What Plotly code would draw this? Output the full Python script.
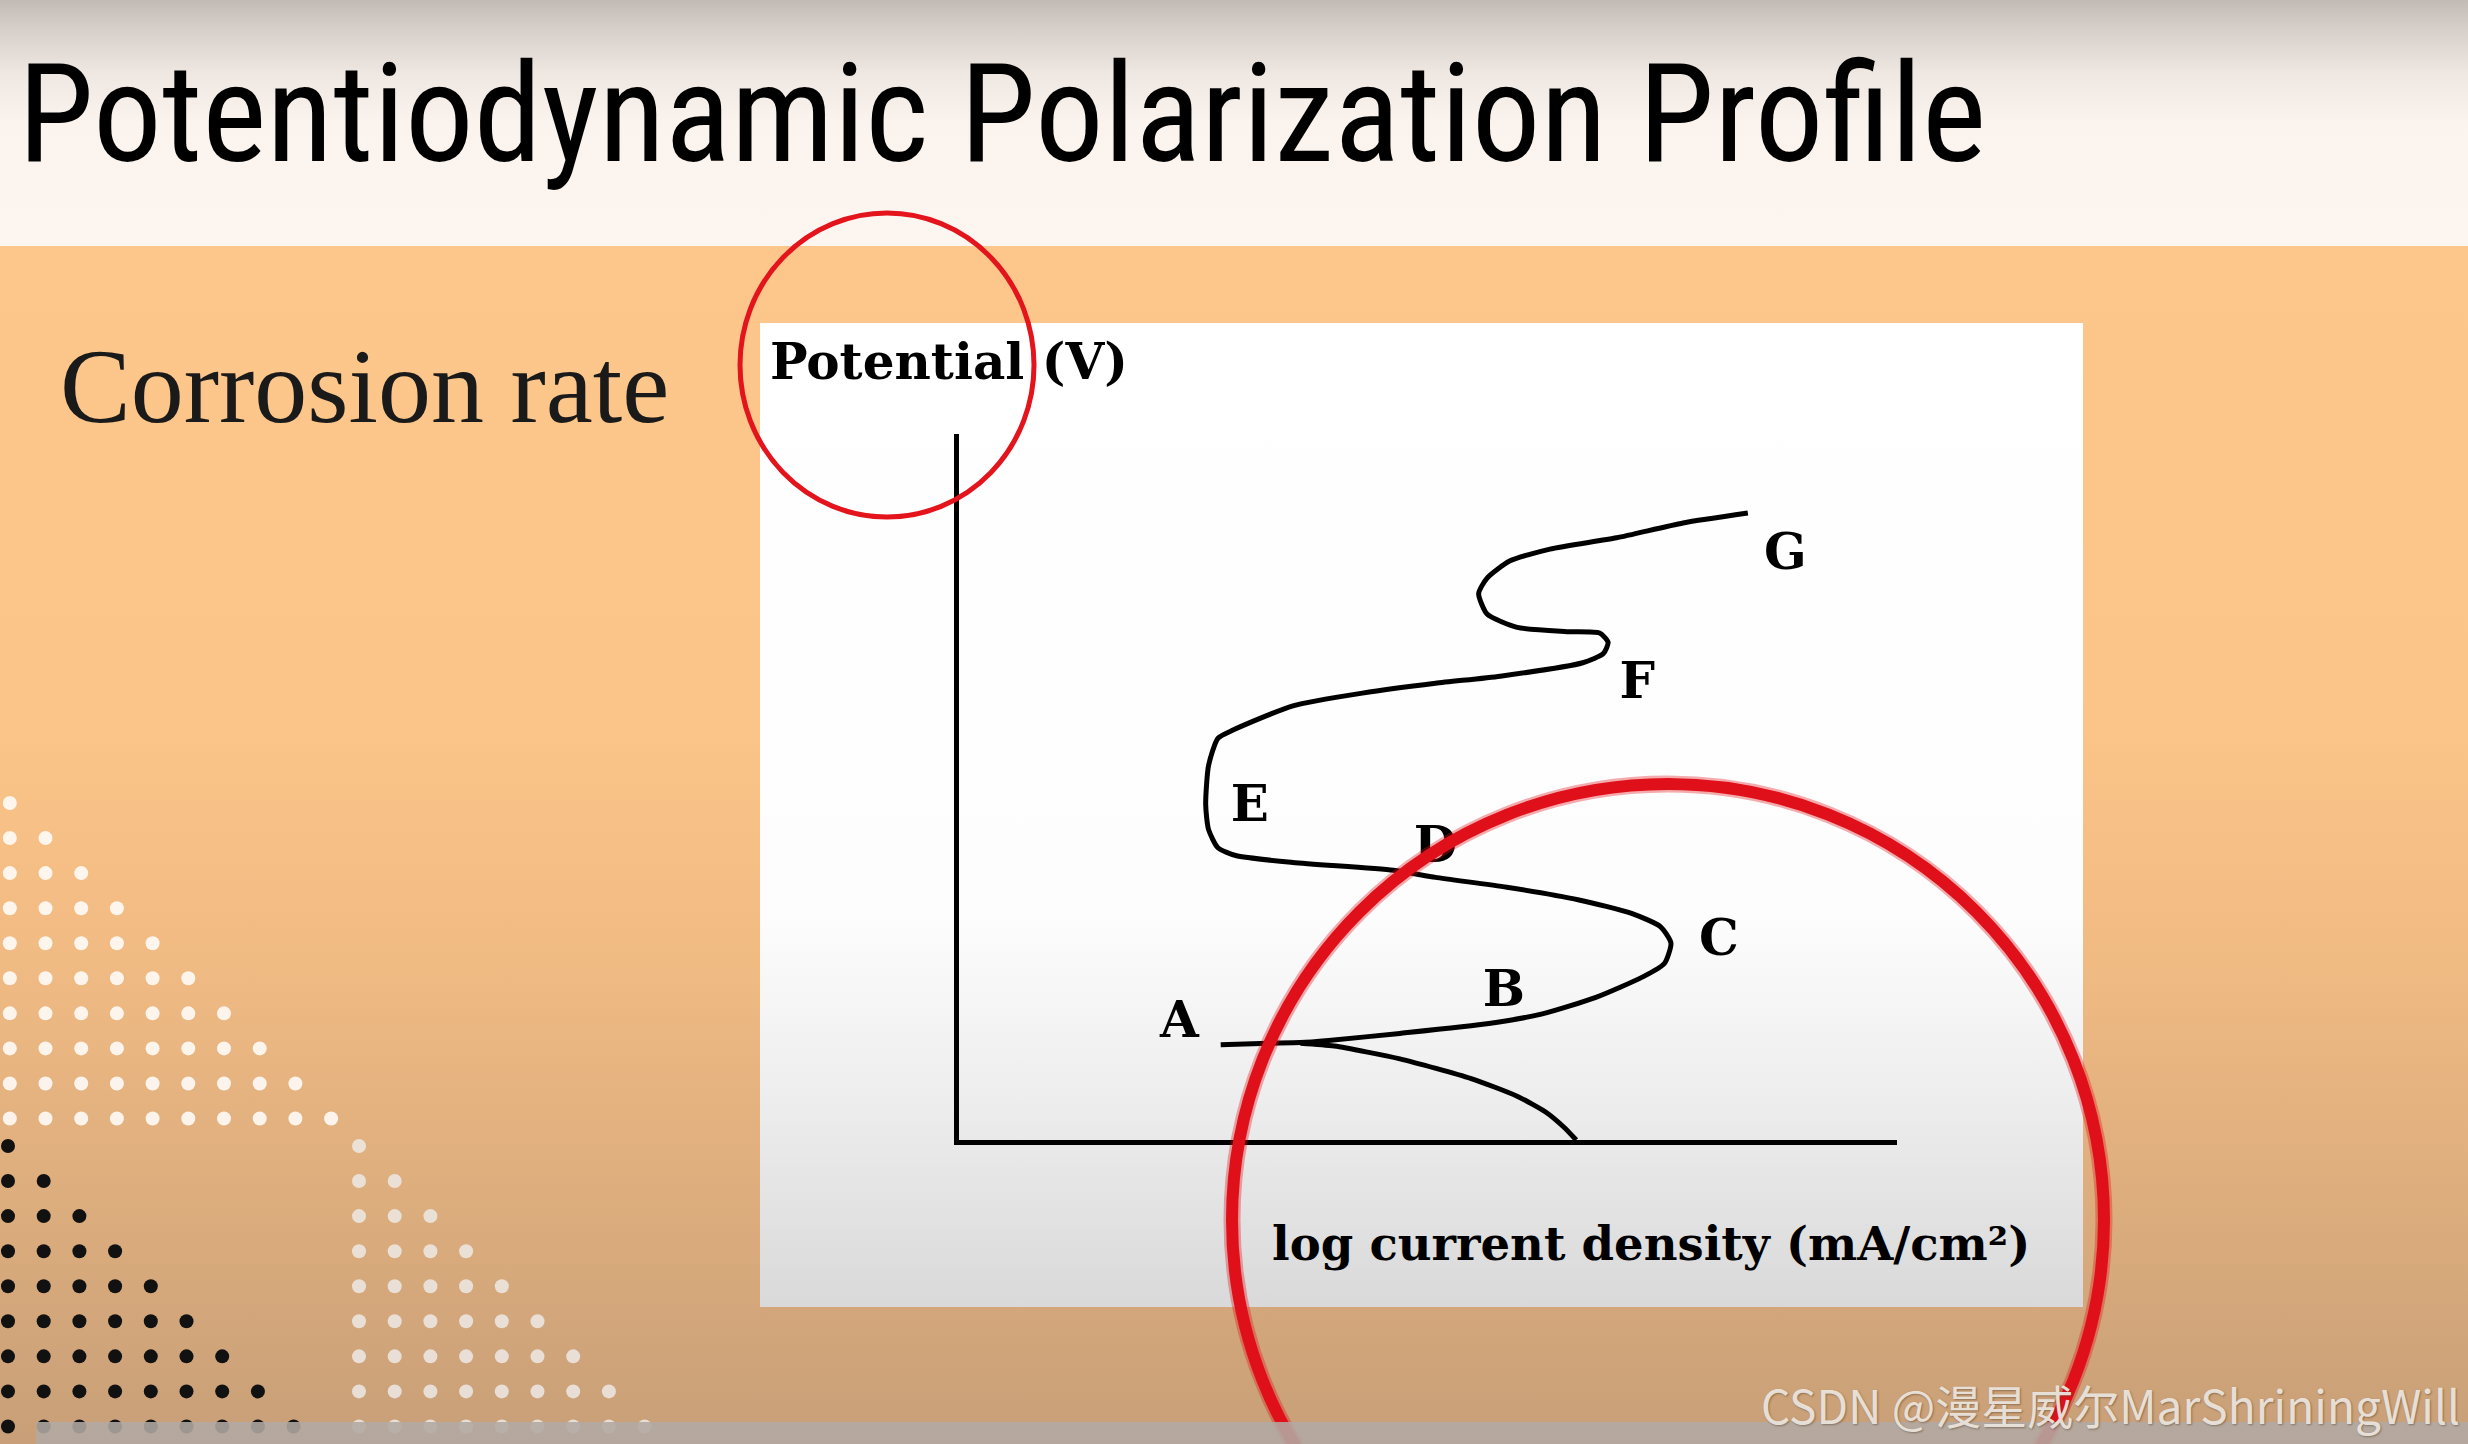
import plotly.graph_objects as go

W, H = 2468, 1444

# ---- chart data (arbitrary units: x = log current density, y = potential) ----
anodic_logi = [2.79, 3.30, 3.64, 3.94, 4.70, 5.65, 6.23, 6.79, 7.29, 7.52, 7.59, 7.48,
               7.17, 6.61, 5.84, 5.08, 4.63, 3.56, 2.95, 2.76, 2.66, 2.63, 2.66, 2.76,
               2.91, 3.56, 4.30, 5.08, 5.77, 6.65, 6.87, 6.92, 6.83, 6.48, 5.95, 5.63,
               5.54, 5.63, 5.87, 6.30, 7.01, 7.72, 8.41]
anodic_potential = [1.35, 1.37, 1.38, 1.41, 1.51, 1.65, 1.79, 2.02, 2.31, 2.50, 2.79, 3.02,
                    3.21, 3.40, 3.58, 3.72, 3.82, 3.93, 4.03, 4.14, 4.40, 4.75, 5.30, 5.69,
                    5.80, 6.15, 6.33, 6.47, 6.57, 6.76, 6.89, 7.05, 7.18, 7.20, 7.26, 7.45,
                    7.74, 7.96, 8.20, 8.37, 8.53, 8.74, 8.88]
cathodic_logi = [3.64, 4.00, 4.70, 5.46, 5.95, 6.25, 6.45, 6.58]
cathodic_potential = [1.37, 1.33, 1.15, 0.87, 0.62, 0.40, 0.18, 0.00]

point_labels = ["A", "B", "C", "D", "E", "F", "G"]
label_logi = [2.35, 5.81, 8.10, 5.08, 3.10, 7.23, 8.81]
label_potential = [1.64, 2.07, 2.80, 4.12, 4.70, 6.44, 8.26]

title_text = "Potentiodynamic Polarization Profile"
side_text = "Corrosion rate"
y_title = "Potential (V)"
x_title = "log current density (mA/cm²)"
watermark = "CSDN @漫星威尔MarShriningWill"

fig = go.Figure()


def grad_rect(x0, x1, y0, y1, stops):
    fig.add_trace(go.Scatter(
        x=[x0, x1, x1, x0, x0], y=[y0, y0, y1, y1, y0],
        mode="lines", line=dict(width=0), fill="toself",
        fillgradient=dict(type="vertical", start=y0, stop=y1, colorscale=stops),
        hoverinfo="skip", showlegend=False, xaxis="x", yaxis="y"))


# slide background
grad_rect(0, W, 0, 246, [[0, "#c2bab5"], [0.12, "#d6cfca"], [0.3, "#eee7e2"],
                         [0.5, "#fbf4ee"], [1, "#fdf6f0"]])
grad_rect(0, W, 246, H, [[0, "#fdc78b"], [0.4, "#fbc488"], [0.6, "#f0ba83"],
                         [0.8, "#dcad7d"], [1, "#c89f78"]])
# white picture box
grad_rect(760, 2083, 323, 1307, [[0, "#ffffff"], [0.6, "#fdfdfd"], [0.78, "#eeeeee"],
                                 [1, "#d9d9d9"]])


# decorative dot triangles
def dots(x0, y0, rows, color):
    xs, ys = [], []
    for k in range(rows):
        for j in range(k + 1):
            xs.append(x0 + 35.7 * j)
            ys.append(y0 + 35.06 * k)
    fig.add_trace(go.Scatter(x=xs, y=ys, mode="markers",
                             marker=dict(size=14, color=color, line=dict(width=0)),
                             hoverinfo="skip", showlegend=False, xaxis="x", yaxis="y"))


dots(9.8, 803, 10, "rgba(255,253,250,0.88)")
dots(8, 1146, 9, "#111111")
dots(359, 1146, 9, "rgba(238,236,234,0.82)")

# axis titles of the picture
fig.add_trace(go.Scatter(x=[770], y=[366], mode="text", text=[y_title],
                         textposition="middle right",
                         textfont=dict(family="DejaVu Serif", size=50, color="#000000",
                                       weight="bold"),
                         hoverinfo="skip", showlegend=False, xaxis="x", yaxis="y"))
fig.add_trace(go.Scatter(x=[1272], y=[1248], mode="text", text=[x_title],
                         textposition="middle right",
                         textfont=dict(family="DejaVu Serif", size=46.5, color="#000000",
                                       weight="bold"),
                         hoverinfo="skip", showlegend=False, xaxis="x", yaxis="y"))

# polarization curve
fig.add_trace(go.Scatter(x=anodic_logi, y=anodic_potential, mode="lines",
                         line=dict(color="#000000", width=5, shape="spline", smoothing=0.6),
                         hoverinfo="skip", showlegend=False, xaxis="x2", yaxis="y2"))
fig.add_trace(go.Scatter(x=cathodic_logi, y=cathodic_potential, mode="lines",
                         line=dict(color="#000000", width=5, shape="spline", smoothing=0.6),
                         hoverinfo="skip", showlegend=False, xaxis="x2", yaxis="y2"))
fig.add_trace(go.Scatter(x=label_logi, y=label_potential, mode="text", text=point_labels,
                         textposition="middle center", cliponaxis=False,
                         textfont=dict(family="DejaVu Serif", size=50, color="#000000",
                                       weight="bold"),
                         hoverinfo="skip", showlegend=False, xaxis="x2", yaxis="y2"))

# red highlight circles
fig.add_shape(type="circle", xref="x", yref="y", x0=740, x1=1034, y0=213, y1=517,
              line=dict(color="#e3141c", width=5), layer="above")
fig.add_shape(type="circle", xref="x", yref="y", x0=1232, x1=2104, y0=784, y1=1656,
              line=dict(color="rgba(226,18,26,0.35)", width=17), layer="above")
fig.add_shape(type="circle", xref="x", yref="y", x0=1232, x1=2104, y0=784, y1=1656,
              line=dict(color="#e0101a", width=12), layer="above")
# bottom strip
fig.add_shape(type="rect", xref="x", yref="y", x0=36, x1=W, y0=1422, y1=H,
              fillcolor="rgba(178,168,163,0.88)", line=dict(width=0), layer="above")

fig.add_annotation(x=16, y=114, xref="x", yref="y", text=title_text, showarrow=False,
                   xanchor="left", yanchor="middle",
                   font=dict(family="Roboto Condensed, Liberation Sans Narrow, DejaVu Sans Condensed, sans-serif",
                             size=137, color="#000000"))
fig.add_annotation(x=58, y=386, xref="x", yref="y", text=side_text, showarrow=False,
                   xanchor="left", yanchor="middle",
                   font=dict(family="Liberation Serif, serif", size=106, color="#1a1a1a"))
fig.add_annotation(x=2462, y=1404, xref="x", yref="y", text=watermark, showarrow=False,
                   xanchor="right", yanchor="middle",
                   font=dict(family="Noto Sans CJK SC, sans-serif", size=46,
                             color="rgba(236,230,223,0.95)",
                             shadow="1px 1px 2px rgba(80,60,40,0.5)"))

fig.update_layout(
    width=W, height=H, margin=dict(l=0, r=0, t=0, b=0),
    paper_bgcolor="#fdc78b", plot_bgcolor="rgba(0,0,0,0)",
    showlegend=False,
    xaxis=dict(domain=[0, 1], range=[0, W], visible=False, fixedrange=True),
    yaxis=dict(domain=[0, 1], range=[H, 0], visible=False, fixedrange=True),
    xaxis2=dict(domain=[959 / W, 1897 / W], range=[0, 10], anchor="y2",
                showline=True, linecolor="#000000", linewidth=5, showgrid=False,
                zeroline=False, ticks="", showticklabels=False, fixedrange=True),
    yaxis2=dict(domain=[(H - 1140) / H, (H - 434) / H], range=[0, 10], anchor="x2",
                showline=True, linecolor="#000000", linewidth=5, showgrid=False,
                zeroline=False, ticks="", showticklabels=False, fixedrange=True),
)

fig.write_html("out.html", config={"displayModeBar": False},
               post_script="document.body.style.margin='0';document.body.style.overflow='hidden';")
